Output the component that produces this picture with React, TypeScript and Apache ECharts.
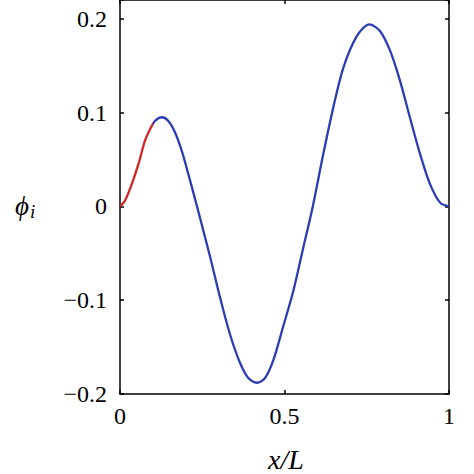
import React, { useEffect, useRef } from "react";
import * as echarts from "echarts";

const xValues = [0, 0.015, 0.036, 0.056, 0.076, 0.094, 0.106, 0.127, 0.147, 0.167, 0.188, 0.208, 0.228, 0.243, 0.274, 0.304, 0.334, 0.365, 0.39, 0.416, 0.441, 0.466, 0.496, 0.527, 0.557, 0.583, 0.618, 0.648, 0.679, 0.719, 0.758, 0.79, 0.821, 0.851, 0.881, 0.912, 0.942, 0.973, 1];
const yValues = [0, 0.006, 0.024, 0.045, 0.07, 0.084, 0.091, 0.095, 0.091, 0.079, 0.059, 0.034, 0.008, -0.012, -0.054, -0.097, -0.136, -0.167, -0.183, -0.188, -0.183, -0.164, -0.128, -0.09, -0.044, -0.005, 0.056, 0.105, 0.148, 0.181, 0.194, 0.187, 0.166, 0.134, 0.095, 0.056, 0.024, 0.004, 0];
const redEnd = 0.1;
const xTicks = [0, 0.5, 1];
const yTickLabels = ["\u22120.2", "\u22120.1", "0", "0.1", "0.2"];

const RED = "#cf2626";
const BLUE = "#2b3cb4";
const FONT = "Liberation Serif";

function fmtY(v: number): string {
  const k = Math.round(v * 10);
  if (Math.abs(v * 10 - k) > 1e-6) return "";
  return yTickLabels[k + 2] ?? "";
}
function fmtX(v: number): string {
  const i = xTicks.findIndex((t) => Math.abs(t - v) < 1e-9);
  return i >= 0 ? String(xTicks[i]) : "";
}

export default function App() {
  const ref = useRef<HTMLDivElement>(null);
  useEffect(() => {
    if (!ref.current) return;
    const chart = echarts.init(ref.current, null, { renderer: "svg" });
    const axisLine = { show: true, onZero: false, lineStyle: { color: "#000", width: 1.5 } };
    const axisTick = { show: true, inside: true, length: 4, lineStyle: { color: "#000", width: 1.5 } };
    chart.setOption({
      animation: false,
      backgroundColor: "#fff",
      textStyle: { fontFamily: FONT },
      grid: { left: 120, right: 25, top: -1.3, bottom: 80, containLabel: false },
      xAxis: [
        {
          type: "value", min: 0, max: 1, interval: 0.5, position: "bottom",
          axisLine, axisTick, splitLine: { show: false },
          axisLabel: { formatter: fmtX, fontFamily: FONT, fontSize: 24, color: "#000", margin: 10 },
        },
        {
          type: "value", min: 0, max: 1, interval: 0.5, position: "top",
          axisLine, axisTick, splitLine: { show: false }, axisLabel: { show: false },
        },
      ],
      yAxis: [
        {
          type: "value", min: -0.2, max: 0.22, interval: 0.1, position: "left",
          axisLine, axisTick, splitLine: { show: false },
          axisLabel: { formatter: fmtY, fontFamily: FONT, fontSize: 24, color: "#000", margin: 13 },
        },
        {
          type: "value", min: -0.2, max: 0.22, interval: 0.1, position: "right",
          axisLine, axisTick, splitLine: { show: false }, axisLabel: { show: false },
        },
      ],
      series: [
        {
          type: "line", data: xValues.map((x, i) => [x, yValues[i]]), smooth: 0.3, symbol: "none",
          lineStyle: { width: 2.3, color: BLUE },
        },
      ],
      graphic: [
        {
          type: "text", left: 15, top: 192,
          style: {
            text: "{a|\u03d5}{b|i}",
            rich: {
              a: { fontFamily: FONT, fontStyle: "italic", fontSize: 27, fill: "#000" },
              b: { fontFamily: FONT, fontStyle: "italic", fontSize: 19, fill: "#000", padding: [11, 0, 0, 1] },
            },
          },
        },
        {
          type: "text", x: 286, y: 459,
          style: {
            text: "x/L", fontFamily: FONT, fontStyle: "italic", fontSize: 28, fill: "#000",
            align: "center", verticalAlign: "middle",
          },
        },
      ],
    });
    const w = chart.getWidth();
    const px = chart.convertToPixel({ xAxisIndex: 0 }, redEnd) as number;
    const f = Math.min(1, Math.max(0, px / w));
    chart.setOption({
      series: [
        {
          lineStyle: {
            color: new echarts.graphic.LinearGradient(0, 0, w, 0, [
              { offset: 0, color: RED },
              { offset: f, color: RED },
              { offset: f, color: BLUE },
              { offset: 1, color: BLUE },
            ], true),
          },
        },
      ],
    });
    return () => chart.dispose();
  }, []);
  return <div ref={ref} style={{ position: "absolute", left: 0, top: 0, width: 474, height: 474 }} />;
}
